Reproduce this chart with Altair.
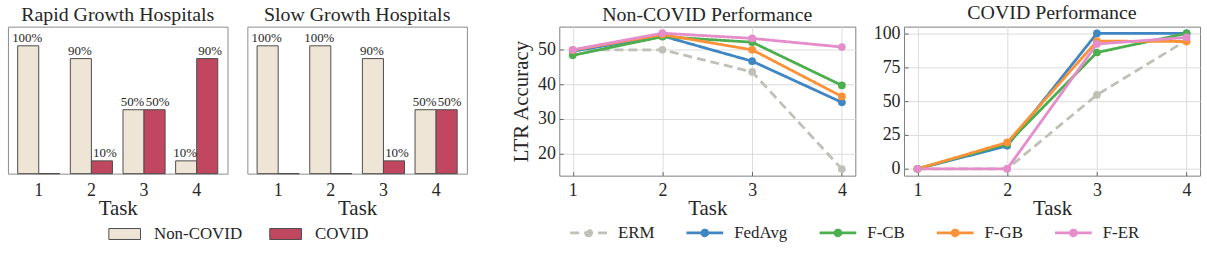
import altair as alt
import pandas as pd

# ---------------- data ----------------
tasks = ["1", "2", "3", "4"]
groups = ["Non-COVID", "COVID"]
rapid_noncovid = [100, 90, 50, 10]
rapid_covid = [0, 10, 50, 90]
slow_noncovid = [100, 100, 90, 50]
slow_covid = [0, 0, 10, 50]

task_nums = [1, 2, 3, 4]
methods = ["ERM", "FedAvg", "F-CB", "F-GB", "F-ER"]
erm_noncovid = [50.0, 50.0, 43.6, 15.5]
fedavg_noncovid = [49.6, 54.0, 46.7, 34.8]
fcb_noncovid = [48.4, 53.8, 52.2, 39.7]
fgb_noncovid = [49.9, 54.4, 50.0, 36.5]
fer_noncovid = [50.0, 54.8, 53.3, 50.8]
erm_covid = [0.0, 0.0, 54.6, 95.0]
fedavg_covid = [0.0, 17.0, 100.0, 100.0]
fcb_covid = [0.0, 18.5, 85.9, 100.0]
fgb_covid = [0.0, 19.5, 94.3, 94.0]
fer_covid = [0.0, 0.0, 92.2, 97.0]

# ---------------- style ----------------
FONT = "Liberation Serif"
TEXT = "#262626"
BEIGE = "#efe5d7"
CRIMSON = "#c0475f"
METHOD_COLORS = ["#c0c0b9", "#3f86c3", "#4cae4c", "#fd9137", "#e58ccb"]
METHOD_DASH = [[9, 5], [1, 0], [1, 0], [1, 0], [1, 0]]
INWARD = alt.ExprRef(expr="-4")


def bar_panel(title, noncovid, covid, legend):
    df = pd.DataFrame({
        "task": tasks * 2,
        "group": [groups[0]] * 4 + [groups[1]] * 4,
        "value": noncovid + covid,
    })
    df["label"] = df["value"].map(lambda v: f"{v}%")
    base = alt.Chart(df).encode(
        x=alt.X("task:N", sort=tasks,
                scale=alt.Scale(paddingInner=0.2, paddingOuter=0.185),
                axis=alt.Axis(title="Task", labelAngle=0, ticks=False, domain=False,
                              labelFontSize=18, titleFontSize=21, labelPadding=8,
                              titlePadding=-2)),
        xOffset=alt.XOffset("group:N", sort=groups,
                            scale=alt.Scale(paddingInner=0, paddingOuter=0)),
        y=alt.Y("value:Q", scale=alt.Scale(domain=[0, 115], nice=False), axis=None),
    )
    bars = base.mark_bar(stroke="#4d4d4d", strokeWidth=1).encode(
        color=alt.Color("group:N", sort=groups,
                        scale=alt.Scale(domain=groups, range=[BEIGE, CRIMSON]),
                        legend=legend, title=None)
    )
    lab_non = base.transform_filter("datum.value > 0 && datum.group == 'Non-COVID'").mark_text(
        baseline="alphabetic", dy=-4, dx=-1, fontSize=13, font=FONT, color=TEXT
    ).encode(text="label:N")
    lab_cov = base.transform_filter("datum.value > 0 && datum.group == 'COVID'").mark_text(
        baseline="alphabetic", dy=-4, dx=3, fontSize=13, font=FONT, color=TEXT
    ).encode(text="label:N")
    return alt.layer(bars, lab_non, lab_cov).properties(
        width=221, height=148,
        title=alt.Title(title, fontSize=20, font=FONT, fontWeight="normal",
                        color=TEXT, offset=2),
        view=alt.ViewBackground(stroke="#8c8c8c", strokeWidth=1),
    )


def line_panel(title, series, ydomain, yticks, ytitle, legend):
    rows = []
    for m, vals in zip(methods, series):
        for t, v in zip(task_nums, vals):
            rows.append({"method": m, "task": t, "acc": v})
    df = pd.DataFrame(rows)
    x = alt.X("task:Q", scale=alt.Scale(domain=[0.85, 4.15], nice=False, zero=False),
              axis=alt.Axis(values=task_nums, format="d", title="Task", ticks=True,
                            tickSize=INWARD, tickColor="#666666", tickWidth=1,
                            domain=False, grid=True, gridColor="#dcdcdc",
                            labelFontSize=18, titleFontSize=21, labelPadding=10,
                            titlePadding=-2))
    yaxis_kwargs = dict(values=yticks, ticks=True, tickSize=INWARD,
                        tickColor="#666666", tickWidth=1, domain=False, grid=True,
                        gridColor="#dcdcdc", labelFontSize=18, labelPadding=8,
                        titleFontSize=21, titlePadding=6)
    if ytitle:
        y = alt.Y("acc:Q", scale=alt.Scale(domain=ydomain, nice=False, zero=False),
                  axis=alt.Axis(title=ytitle, **yaxis_kwargs))
    else:
        y = alt.Y("acc:Q", scale=alt.Scale(domain=ydomain, nice=False, zero=False),
                  axis=alt.Axis(title=None, **yaxis_kwargs))
    color = alt.Color("method:N", sort=methods,
                      scale=alt.Scale(domain=methods, range=METHOD_COLORS),
                      legend=legend, title=None)
    dash = alt.StrokeDash("method:N", sort=methods,
                          scale=alt.Scale(domain=methods, range=METHOD_DASH),
                          legend=legend, title=None)
    lines = alt.Chart(df).mark_line(strokeWidth=2.8).encode(
        x=x, y=y, color=color, strokeDash=dash
    )
    pts = alt.Chart(df).mark_point(filled=True, size=60, opacity=1).encode(
        x=x, y=y, color=color
    )
    return alt.layer(lines, pts).properties(
        width=298, height=150,
        title=alt.Title(title, fontSize=20, font=FONT, fontWeight="normal",
                        color=TEXT, offset=2),
        view=alt.ViewBackground(stroke="#808080", strokeWidth=1),
    )


bar_legend = alt.Legend(
    orient="none", direction="horizontal", legendX=106, legendY=197,
    symbolType="M-1.45,-0.5H1.45V0.5H-1.45Z", symbolSize=484,
    symbolStrokeColor="#4d4d4d", symbolStrokeWidth=1,
    labelFontSize=17, labelFont=FONT, labelColor=TEXT,
    labelOffset=18, columnPadding=25,
)
line_legend = alt.Legend(
    orient="none", direction="horizontal", legendX=18, legendY=196,
    symbolType=("M-1.85,0H1.85M0.3,0A0.3,0.3,0,1,1,-0.3,0A0.3,0.3,0,1,1,0.3,0"
                "M0.12,0A0.12,0.12,0,1,1,-0.12,0A0.12,0.12,0,1,1,0.12,0"),
    symbolSize=400, symbolStrokeWidth=2.6,
    labelFontSize=17, labelFont=FONT, labelColor=TEXT,
    labelOffset=18, columnPadding=26,
)

b1 = bar_panel("Rapid Growth Hospitals", rapid_noncovid, rapid_covid, bar_legend)
b2 = bar_panel("Slow Growth Hospitals", slow_noncovid, slow_covid, None)
l1 = line_panel("Non-COVID Performance",
                [erm_noncovid, fedavg_noncovid, fcb_noncovid, fgb_noncovid, fer_noncovid],
                [13.6, 56.7], [20, 30, 40, 50], "LTR Accuracy", line_legend)
l2 = line_panel("COVID Performance",
                [erm_covid, fedavg_covid, fcb_covid, fgb_covid, fer_covid],
                [-5, 105], [0, 25, 50, 75, 100], None, None)

bars_row = alt.hconcat(b1, b2, spacing=20, bounds="flush").resolve_scale(
    color="independent")
lines_row = alt.hconcat(l1, l2, spacing=49, bounds="flush").resolve_scale(
    color="independent", strokeDash="independent")

chart = alt.hconcat(bars_row, lines_row, spacing=42).resolve_scale(
    color="independent", strokeDash="independent"
).properties(
    padding={"left": 7, "top": 1, "right": 6, "bottom": 0},
    background="white",
).configure_axis(
    labelFont=FONT, titleFont=FONT, labelColor=TEXT, titleColor=TEXT,
    titleFontWeight="normal",
).configure_legend(
    labelFont=FONT,
)

chart.save("out.html", embed_options={"renderer": "svg", "actions": False})
